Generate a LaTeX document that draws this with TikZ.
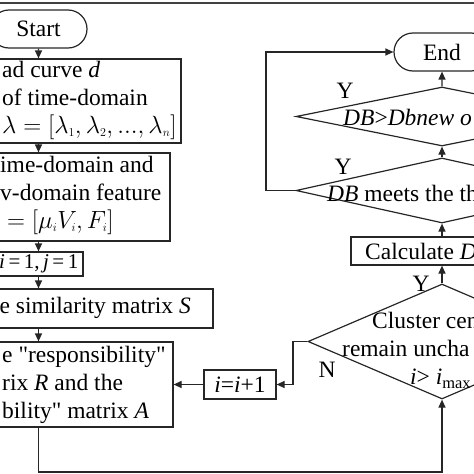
\documentclass[tikz,border=0pt]{standalone}
\usepackage{amsmath}
\usepackage{fontspec}
\setmainfont{Liberation Serif}
\usepackage{tikz}
\usetikzlibrary{arrows.meta,positioning,calc,shapes.geometric,shapes.misc}

\begin{document}
\begin{tikzpicture}[x=1pt,y=-1pt,>={Triangle[length=8pt,width=7pt]},
  every node/.style={font=\fontsize{23.5}{28}\selectfont},
  box/.style={draw=black!85,line width=1.2pt,rectangle,inner sep=0pt},
  term/.style={draw=black!85,line width=1.2pt,rounded rectangle,inner sep=0pt},
  cond/.style={draw=black!85,line width=1.2pt,diamond,inner sep=0pt},
  txt/.style={inner sep=0pt,align=left,anchor=west},
  lbl/.style={inner sep=0pt},
  arr/.style={->,draw=black!85,line width=1.2pt}]
\useasboundingbox (0,0) rectangle (474,474);
\draw[line width=1.6pt,black!75] (0,3)--(474,3);
% left column
\node[term,minimum width=97pt,minimum height=38pt] (start) at (38.5,29) {Start};
\node[box,minimum width=285pt,minimum height=84pt] (load) at (38.5,101) {};
\node[txt] (loadT) at (2,100) {ad curve \textit{d}\\of time-domain\\$\lambda=\left[\lambda_{\scriptscriptstyle 1},\lambda_{\scriptscriptstyle 2},...,\lambda_{\scriptscriptstyle n}\right]$};
\node[box,minimum width=263pt,minimum height=88pt] (feat) at (38.5,197) {};
\node[txt] (featT) at (0,195) {ime-domain and\\v-domain feature\\\hspace*{7pt}$=\left[\mu_{\scriptscriptstyle i}V_{\scriptscriptstyle i},F_{\scriptscriptstyle i}\right]$};
\node[box,minimum width=89pt,minimum height=24pt] (init) at (38.5,264) {};
\node[txt,anchor=east,font=\fontsize{21}{24}\selectfont] (initT) at (78.5,264) {\textit{i}\,=\,1,\,\textit{j}\,=\,1};
\node[box,minimum width=349pt,minimum height=39pt] (simS) at (38.5,308.5) {};
\node[txt,anchor=east] (simST) at (191,308) {e similarity matrix \textit{S}};
\node[box,minimum width=269pt,minimum height=85pt] (upd) at (38.5,384.5) {};
\node[txt] (updT) at (2,385) {e \textquotedbl responsibility\textquotedbl\\rix \textit{R} and the\\bility\textquotedbl{} matrix \textit{A}};
\node[box,minimum width=72pt,minimum height=29pt] (inc) at (240,384.5) {\textit{i}=\textit{i}+1};
% right column
\node[term,minimum width=96pt,minimum height=38pt] (end) at (442,52) {End};
\node[cond,minimum width=292pt,minimum height=59pt] (dbnew) at (442,116.5) {};
\node[txt] (dbnewT) at (343,117) {\textit{DB}>\textit{Dbnew o}};
\node[cond,minimum width=292pt,minimum height=65pt] (dbthr) at (442,190.5) {};
\node[txt] (dbthrT) at (327,193) {\textit{DB} meets the th};
\node[box,minimum width=182pt,minimum height=28pt] (calc) at (442,251) {};
\node[txt] (calcT) at (365,251) {Calculate \textit{D}};
\node[cond,minimum width=268pt,minimum height=115pt] (conv) at (442,341.5) {};
\node[txt] (convA) at (372,320) {Cluster cen};
\node[txt] (convB) at (342,348) {remain uncha};
\node[txt] (convC) at (410,379) {\textit{i}> \textit{i}\textsubscript{max}};
% branch labels
\node[lbl] (y1) at (345,91) {Y};
\node[lbl] (y2) at (343,167) {Y};
\node[lbl] (y3) at (421,284) {Y};
\node[lbl] (n1) at (327,370) {N};
\coordinate (bot) at (442,472);
\coordinate (nbend) at (293,341.5);
\coordinate (ybend) at (266,190.5);
% connectors
\draw[arr] (start)--(load);
\draw[arr] (load)--(feat);
\draw[arr] (feat)--(init);
\draw[arr] (init)--(simS);
\draw[arr] (simS)--(upd);
\draw[arr] (upd.south) |- (bot)--(conv.south);
\draw[arr] (conv.west)--(nbend) |- (inc.east);
\draw[arr] (inc)--(upd);
\draw[arr] (conv)--(calc);
\draw[arr] (calc)--(dbthr);
\draw[arr] (dbthr)--(dbnew);
\draw[arr] (dbnew)--(end);
\draw[arr] (dbthr.west)--(ybend) |- (end.west);
\end{tikzpicture}
\end{document}
